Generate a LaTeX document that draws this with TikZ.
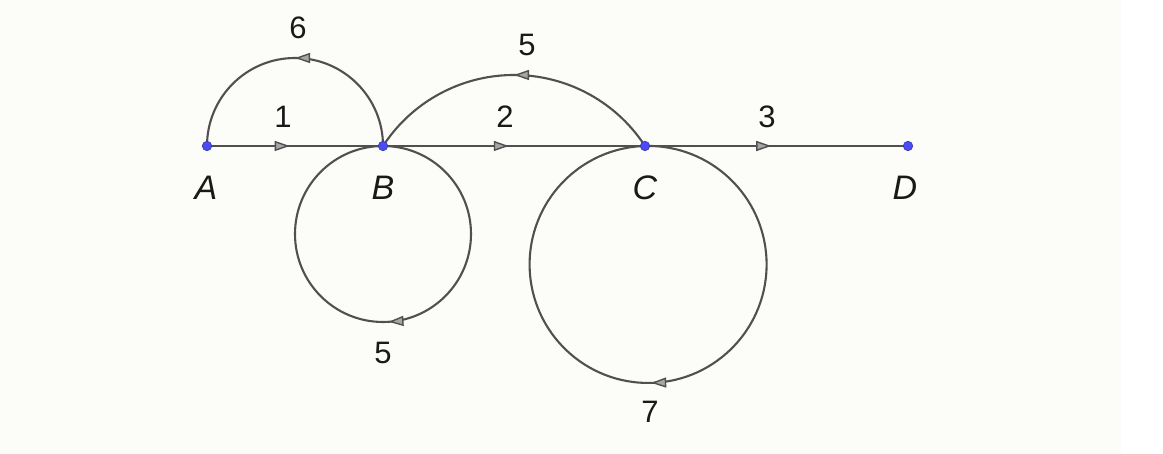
\documentclass[tikz,border=0pt]{standalone}
\usepackage{fontspec}
\setmainfont{Liberation Sans}
\usetikzlibrary{arrows.meta,decorations.markings}
\definecolor{bg}{HTML}{FCFDF8}
\definecolor{edgec}{HTML}{505050}
\definecolor{dotc}{HTML}{4B4BF5}
\tikzset{
  edge/.style={draw=edgec,line width=2.1pt,
    postaction={decorate},
    decoration={markings,mark=at position #1 with {\arrow[edgec,line width=1.4pt]{Triangle[length=15pt,width=10pt,fill=gray!70]}}}},
  edge/.default=0.5,
  pt/.style={circle,fill=dotc,draw=dotc!70!black,line width=0.6pt,inner sep=0pt,minimum size=9.5pt},
  lab/.style={font=\fontsize{31}{36}\selectfont,text=black!90},
  vlab/.style={font=\fontsize{34}{40}\selectfont\itshape,text=black!90}
}
\begin{document}
\begin{tikzpicture}[x=1pt,y=1pt]
\useasboundingbox (0,0) rectangle (1163,454);
\fill[white] (0,0) rectangle (1163,454);
\fill[bg] (0,0) rectangle (1121,454);
\coordinate (A) at (207,308);
\coordinate (B) at (383,308);
\coordinate (C) at (645,308);
\coordinate (D) at (908,308);
% straight edges
\path[edge=0.47] (A) -- (B);
\path[edge=0.48] (B) -- (C);
\path[edge=0.48] (C) -- (D);
% arc A-B above
\path[edge=0.5] (B) arc[start angle=0,end angle=180,radius=88];
% arc B-C above
\path[edge=0.5] (C) arc[start angle=33.07,end angle=146.93,radius=156.3];
% loop at B
\path[edge=0.49] (B) arc[start angle=90,end angle=-270,radius=88];
% loop at C
\path[edge=0.5] (C) arc[start angle=91.5,end angle=-268.5,radius=118.5];
% points
\node[pt] (pA) at (A) {};
\node[pt] (pB) at (B) {};
\node[pt] (pC) at (C) {};
\node[pt] (pD) at (D) {};
% vertex labels
\node[vlab] (lA) at (206,266) {A};
\node[vlab] (lB) at (383,266) {B};
\node[vlab] (lC) at (645,266) {C};
\node[vlab] (lD) at (905,266) {D};
% edge labels
\node[lab] (l1) at (283,337) {1};
\node[lab] (l2) at (505,337) {2};
\node[lab] (l3) at (767,337) {3};
\node[lab] (l6) at (298,426) {6};
\node[lab] (l5a) at (527,409) {5};
\node[lab] (l5b) at (383,101) {5};
\node[lab] (l7) at (650,42) {7};
\end{tikzpicture}
\end{document}
